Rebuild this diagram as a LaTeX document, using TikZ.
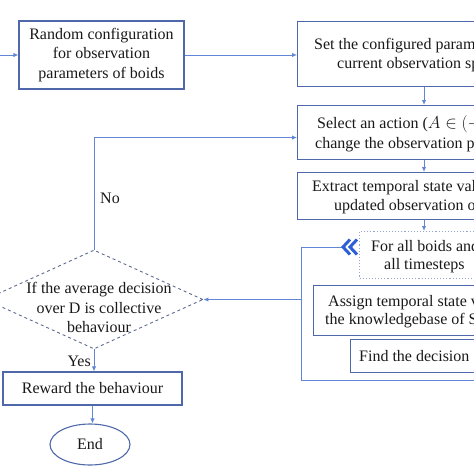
\documentclass[tikz,border=0pt]{standalone}
\usepackage{fontspec}
\setmainfont{Liberation Serif}
\usepackage{tikz}
\usetikzlibrary{calc,arrows.meta,shapes.geometric}
\definecolor{boxblue}{RGB}{78,104,170}
\definecolor{lineblue}{RGB}{98,134,214}
\definecolor{dashgrey}{RGB}{92,106,140}
\definecolor{dotblue}{RGB}{150,166,206}
\definecolor{chevblue}{RGB}{45,95,215}

\begin{document}
\begin{tikzpicture}[x=1pt, y=-1pt,
        box/.style = {draw=boxblue, line width=1.1pt, inner sep=0pt, anchor=north west},
        txt/.style = {anchor=base west, inner sep=0pt, text=black!90, font=\fontsize{16}{19.5}\selectfont},
        conn/.style = {draw=lineblue, line width=1pt},
        arr/.style = {conn, -{Latex[length=5pt,width=4.5pt]}}]
            \useasboundingbox (0,0) rectangle (474,474);
            \clip (0,0) rectangle (474,474);
        % left column
            \node [box, anchor=center, minimum width=165pt, minimum height=68pt, align=center, txt, anchor=center] (rand) at (101.5,55)
                  {Random configuration\\for observation\\parameters of boids};
            \node [draw=dashgrey, dashed, line width=0.9pt, diamond, inner sep=0pt, minimum width=218pt, minimum height=99pt] (dec) at (94,299.5) {};
            \node [txt, anchor=center, align=center] (dectxt) at ($(dec)+(5,8)$) {If the average decision\\over D is collective\\behaviour};
            \node [box, anchor=center, minimum width=179pt, minimum height=33pt, txt, anchor=center] (rew) at (92.5,388.5) {Reward the behaviour};
            \node [draw=boxblue, line width=1.1pt, ellipse, inner sep=0pt, minimum width=80pt, minimum height=41pt, txt, anchor=center] (end) at (90,444.5) {End};
        % right column
            \node [box, minimum width=230pt, minimum height=65pt] (set) at (297,21) {};
            \node [box, minimum width=230pt, minimum height=54pt] (sel) at (297,105) {};
            \node [box, minimum width=230pt, minimum height=47pt] (ext) at (297,172) {};
            \node [box, draw=dotblue, dotted, minimum width=170pt, minimum height=47pt] (each) at (359,231) {};
            \node [box, minimum width=200pt, minimum height=50pt] (asg) at (313,285) {};
            \node [box, minimum width=160pt, minimum height=33pt] (find) at (350,339) {};
            \node [txt] (seta) at (314,49) {Set the configured param};
            \node [txt] (setb) at (337,68) {current observation sp};
            \node [txt] (sela) at (317,128.5) {Select an action ($A\in(-$};
            \node [txt] (selb) at (315,148) {change the observation pa};
            \node [txt] (exta) at (312,191.5) {Extract temporal state val};
            \node [txt] (extb) at (334,210.5) {updated observation o};
            \node [txt] (eacha) at (371,251.5) {For all boids and};
            \node [txt] (eachb) at (384,269.5) {all timesteps};
            \node [txt] (asga) at (328,306.5) {Assign temporal state v};
            \node [txt] (asgb) at (325,324.5) {the knowledgebase of S};
            \node [txt] (finda) at (359,361.5) {Find the decision};
        % loop frame and chevron
            \coordinate (start) at (0,55);
            \coordinate (col) at (424,0);
            \coordinate (chev) at (342,247);
            \coordinate (lpbl) at (301,380);
            \coordinate (lpbr) at (490,380);
            \draw [conn] (chev) -| (lpbl) -- (lpbr);
            \draw [chevblue, line width=3pt, line join=miter] (350,239.5) -- (343,247) -- (350,254.5)
                                                             (357,239.5) -- (350,247) -- (357,254.5);
        % connectors
            \draw [arr] (start) -- (rand.west);
            \draw [arr] (rand.east) -- (rand.east -| set.west);
            \draw [arr] (set.south -| col) -- (sel.north -| col);
            \draw [arr] (sel.south -| col) -- (ext.north -| col);
            \draw [arr] (ext.south -| col) -- (each.north -| col);
            \draw [arr] (dec.north) |- ($(sel.west)+(0,5)$);
            \draw [arr] (lpbl |- dec.east) -- (dec.east);
            \draw [arr] (dec.south) -- (dec.south |- rew.north);
            \draw [arr] (rew.south) -- (rew.south |- end.north);
            \node [txt, anchor=west] (no) at (100,198) {No};
            \node [txt, anchor=east] (yes) at (91,361) {Yes};
        \end{tikzpicture}
\end{document}
